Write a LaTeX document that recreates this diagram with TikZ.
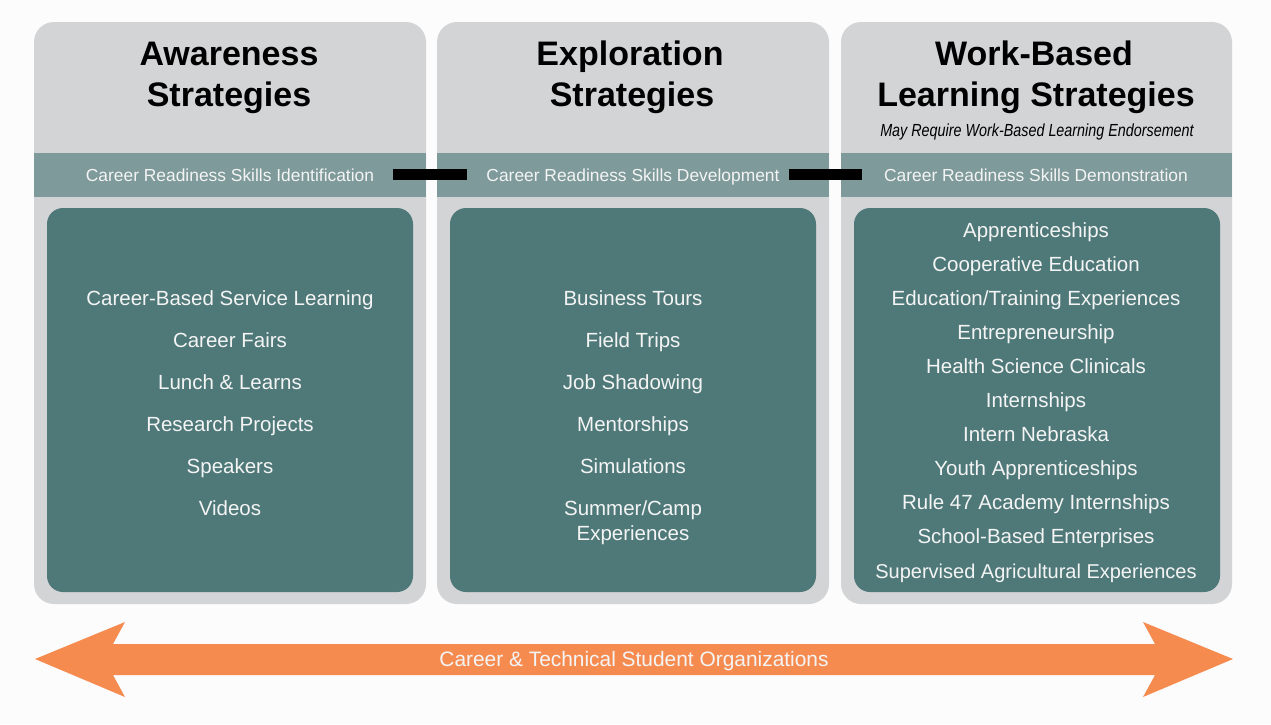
\documentclass[tikz,border=0pt]{standalone}
\usepackage{fontspec}
\setmainfont{Liberation Sans}
\usepackage{graphicx}
\definecolor{bg}{HTML}{FCFCFC}
\definecolor{panelgray}{HTML}{D3D4D6}
\definecolor{bandteal}{HTML}{7F9A9A}
\definecolor{innerteal}{HTML}{4F7979}
\definecolor{arroworange}{HTML}{F68B50}
\definecolor{softwhite}{HTML}{F4F4F4}
\begin{document}
\begin{tikzpicture}[x=1pt,y=-1pt,
  panel/.style={fill=panelgray,rounded corners=20pt},
  band/.style={fill=bandteal},
  inner/.style={fill=innerteal,rounded corners=16pt},
  title/.style={anchor=base,inner sep=0pt,font=\fontsize{34}{40}\selectfont\bfseries,text=black},
  bandtext/.style={anchor=base,inner sep=0pt,font=\fontsize{17.4}{20}\selectfont,text=softwhite},
  item/.style={anchor=base,inner sep=0pt,font=\fontsize{20.5}{25}\selectfont,text=softwhite},
  bar/.style={line width=10.5pt,black},
  ctso/.style={fill=arroworange}
]
\useasboundingbox (0,0) rectangle (1271,724);
\fill[bg] (0,0) rectangle (1271,724);

% panels
\fill[panel] (34,22) rectangle (426,604);
\fill[panel] (437,22) rectangle (829,604);
\fill[panel] (841,22) rectangle (1232,604);
% bands
\fill[band] (34,153) rectangle (426,197);
\fill[band] (437,153) rectangle (829,197);
\fill[band] (841,153) rectangle (1232,197);
% inner boxes
\fill[inner] (47,208) rectangle (413,592);
\fill[inner] (450,208) rectangle (816,592);
\fill[inner] (854,208) rectangle (1220,592);

% titles
\node[title] (t1a) at (229,65) {Awareness};
\node[title] (t1b) at (229,106) {Strategies};
\node[title] (t2a) at (630,65) {Exploration};
\node[title] (t2b) at (632,106) {Strategies};
\node[title] (t3a) at (1034,65) {Work-Based};
\node[title] (t3b) at (1036,106) {Learning Strategies};
\node[anchor=base,inner sep=0pt,font=\fontsize{17.5}{20}\selectfont\itshape] (sub) at (1037,136) {\scalebox{0.82}[1]{May Require Work-Based Learning Endorsement}};

% band labels
\node[bandtext] (b1) at (230,181.5) {Career Readiness Skills Identification};
\node[bandtext] (b2) at (633,181.5) {Career Readiness Skills Development};
\node[bandtext] (b3) at (1036,181.5) {Career Readiness Skills Demonstration};
\coordinate (k1a) at (393,174.5);
\coordinate (k1b) at (467,174.5);
\coordinate (k2a) at (789,174.5);
\coordinate (k2b) at (862,174.5);
\draw[bar] (k1a) -- (k1b);
\draw[bar] (k2a) -- (k2b);

% awareness items
\node[item] (a1) at (230,305) {Career-Based Service Learning};
\node[item] (a2) at (230,347) {Career Fairs};
\node[item] (a3) at (230,389) {Lunch \& Learns};
\node[item] (a4) at (230,431) {Research Projects};
\node[item] (a5) at (230,473) {Speakers};
\node[item] (a6) at (230,515) {Videos};

% exploration items
\node[item] (e1) at (633,305) {Business Tours};
\node[item] (e2) at (633,347) {Field Trips};
\node[item] (e3) at (633,389) {Job Shadowing};
\node[item] (e4) at (633,431) {Mentorships};
\node[item] (e5) at (633,473) {Simulations};
\node[item] (e6) at (633,515) {Summer/Camp};
\node[item] (e7) at (633,540) {Experiences};

% work-based items
\node[item] (w1) at (1036,237) {Apprenticeships};
\node[item] (w2) at (1036,271) {Cooperative Education};
\node[item] (w3) at (1036,305) {Education/Training Experiences};
\node[item] (w4) at (1036,339) {Entrepreneurship};
\node[item] (w5) at (1036,373) {Health Science Clinicals};
\node[item] (w6) at (1036,407) {Internships};
\node[item] (w7) at (1036,441) {Intern Nebraska};
\node[item] (w8) at (1036,475) {Youth Apprenticeships};
\node[item] (w9) at (1036,509) {Rule 47 Academy Internships};
\node[item] (w10) at (1036,543) {School-Based Enterprises};
\node[item,font=\fontsize{20}{25}\selectfont] (w11) at (1036,578) {Supervised Agricultural Experiences};

% arrow
\fill[ctso] (35,659) -- (125,622) -- (113,644) -- (1155,644) -- (1143,622) -- (1233,659)
  -- (1143,697) -- (1155,675) -- (113,675) -- (125,697) -- cycle;
\node[anchor=base,inner sep=0pt,font=\fontsize{20.9}{24}\selectfont,text=softwhite] (ctsolabel) at (634,666.5) {Career \& Technical Student Organizations};
\end{tikzpicture}
\end{document}
